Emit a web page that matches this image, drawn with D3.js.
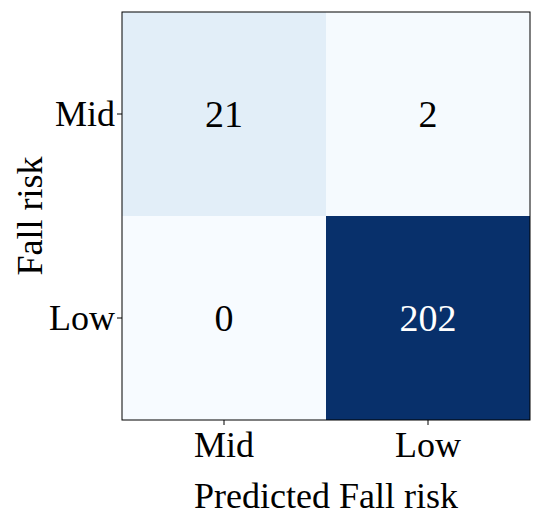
<!DOCTYPE html>
<html><head><script src="https://cdn.jsdelivr.net/npm/d3@7"></script>
<style>body{margin:0;background:#fff}</style></head><body>
<script>
const rows=["Mid","Low"], cols=["Mid","Low"];
const values=[[21,2],[0,202]];
const W=550,H=528,m={l:122,t:12,r:20,b:108};
const svg=d3.select("body").append("svg").attr("width",W).attr("height",H);
const x=d3.scaleBand().domain(cols).range([m.l,W-m.r]);
const y=d3.scaleBand().domain(rows).range([m.t,H-m.b]);
const c=d3.scaleSequential(d3.interpolateBlues).domain([0,202]);
const cells=[];rows.forEach((r,i)=>cols.forEach((k,j)=>cells.push({r,k,v:values[i][j]})));
svg.selectAll("rect.c").data(cells).join("rect").attr("x",d=>x(d.k)).attr("y",d=>y(d.r))
 .attr("width",x.bandwidth()).attr("height",y.bandwidth()).attr("fill",d=>c(d.v));
svg.selectAll("text.v").data(cells).join("text").attr("x",d=>x(d.k)+x.bandwidth()/2).attr("y",d=>y(d.r)+y.bandwidth()/2)
 .attr("text-anchor","middle").attr("dominant-baseline","central").attr("font-family","Liberation Serif").attr("font-size",38)
 .attr("fill",d=>d.v>101?"#fff":"#000").text(d=>d.v);
svg.append("rect").attr("x",m.l).attr("y",m.t).attr("width",W-m.l-m.r).attr("height",H-m.t-m.b).attr("fill","none").attr("stroke","#000").attr("stroke-width",1);
const ax=svg.append("g").attr("transform",`translate(0,${H-m.b})`).call(d3.axisBottom(x).tickSize(5).tickPadding(6));
const ay=svg.append("g").attr("transform",`translate(${m.l},0)`).call(d3.axisLeft(y).tickSize(5).tickPadding(2));
[ax,ay].forEach(a=>{a.select(".domain").remove();a.selectAll("text").attr("font-family","Liberation Serif").attr("font-size",36).attr("fill","#000");});
svg.append("text").attr("x",(m.l+W-m.r)/2).attr("y",508).attr("text-anchor","middle").attr("font-family","Liberation Serif").attr("font-size",36).text("Predicted Fall risk");
svg.append("text").attr("transform",`translate(42,${(m.t+H-m.b)/2}) rotate(-90)`).attr("text-anchor","middle").attr("font-family","Liberation Serif").attr("font-size",36).text("Fall risk");
</script></body></html>
